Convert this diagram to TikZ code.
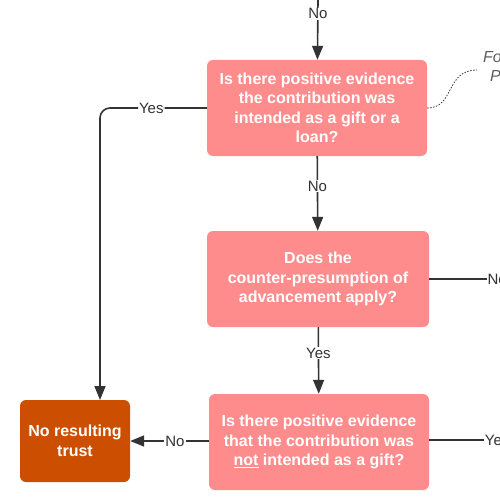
\documentclass[tikz,border=0pt]{standalone}
\usepackage{fontspec}
\setmainfont{Liberation Sans}
\usetikzlibrary{arrows.meta}
\definecolor{q_red}{RGB}{255, 140, 140}
\definecolor{end_orange}{RGB}{204, 78, 0}
\definecolor{line_grey}{RGB}{51, 51, 51}
\tikzstyle{qn}=[rectangle,rounded corners=6pt,fill=q_red,draw=none,
  text=white,font=\bfseries\fontsize{16}{19.5}\selectfont,align=center,
  minimum width=220pt,minimum height=96pt,inner sep=2pt]
\tikzstyle{en}=[rectangle,rounded corners=6pt,fill=end_orange,draw=none,
  text=white,font=\bfseries\fontsize{16}{19.5}\selectfont,align=center,
  minimum width=110pt,minimum height=82pt,inner sep=2pt]
\tikzstyle{lbl}=[fill=white,text=line_grey,inner sep=1pt,
  font=\fontsize{15}{18}\selectfont]
\tikzstyle{note}=[text=line_grey!80,font=\itshape\fontsize{16}{19}\selectfont,
  inner sep=0pt,anchor=west]
\tikzstyle{flow}=[draw=line_grey,line width=1.6pt,
  -{Triangle[length=14pt,width=11pt]}]
\tikzstyle{none}=[]

\begin{document}
\begin{tikzpicture}[x=1pt, y=1pt]
            \useasboundingbox (0, 0) rectangle (500, -500);
            \node [style=none] (0) at (318, 0) {};
            \node [style=qn] (1) at (317, -108) {Is there positive evidence\\the contribution was\\intended as a gift or a\\loan?};
            \node [style=qn, minimum width=222pt] (2) at (318, -279) {Does the\\counter-presumption of\\advancement apply?};
            \node [style=qn] (3) at (319, -442) {Is there positive evidence\\that the contribution was\\\underline{not} intended as a gift?};
            \node [style=en] (4) at (75, -441) {No resulting\\trust};
            \node [style=none] (5) at (560, -279) {};
            \node [style=none] (6) at (560, -440) {};
            \node [style=note] (7) at (483, -57) {Fo};
            \node [style=note] (8) at (490, -76) {P};
            \coordinate (9) at (100, -400);
            \draw [style=flow] (0.center) to node [style=lbl, pos=0.23] {No} (1);
            \draw [style=flow] (1) to node [style=lbl, pos=0.4] {No} (2);
            \draw [style=flow] (2) to node [style=lbl, pos=0.39] {Yes} (3);
            \draw [style=flow, rounded corners=10pt] (1.west) -| node [style=lbl, pos=0.26] {Yes} (9);
            \draw [style=flow] (3.west |- 4.east) to node [style=lbl, pos=0.43] {No} (4.east);
            \draw [draw=line_grey, line width=1.6pt] (2.east) to node [style=lbl, pos=0.52] {No} (5.center);
            \draw [draw=line_grey, line width=1.6pt] (3.east |- 6.center) to node [style=lbl, pos=0.52] {Yes} (6.center);
            \draw [draw=line_grey, line width=0.8pt, dash pattern=on 1.5pt off 1.5pt] (1.east) .. controls (455, -108) and (445, -70) .. (477, -70);
    \end{tikzpicture}
\end{document}
